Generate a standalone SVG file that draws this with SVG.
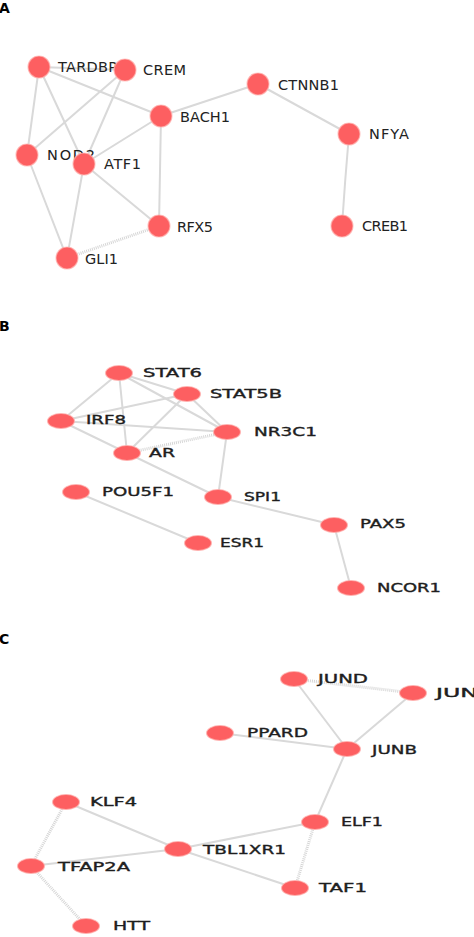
<svg xmlns="http://www.w3.org/2000/svg" width="474" height="937" viewBox="0 0 474 937">
<style>
.bg{fill:#ffffff}
.e{stroke:#d9d9d9;stroke-width:2;fill:none;stroke-linecap:round}
.d{stroke:#d6d6d6;stroke-width:3;fill:none;stroke-dasharray:1 1}
.n{fill:#fd5f61;stroke:#ffb3b0;stroke-width:1.2;stroke-opacity:0.7}
.la{font-family:"DejaVu Sans",Verdana,sans-serif;font-size:14.5px;fill:#222}
.lb{font-family:"DejaVu Sans",Verdana,sans-serif;font-size:11.5px;fill:#1e1e1e;stroke:#1e1e1e;stroke-width:0.35}
.p{font-family:"DejaVu Sans",Arial,sans-serif;font-size:14px;font-weight:bold;fill:#000}
</style>
<rect class="bg" x="0" y="0" width="474" height="937"/>
<text class="p" x="-1" y="13">A</text>
<text class="p" x="-1" y="331">B</text>
<text class="p" x="-1" y="644">C</text>
<g id="connectors">
<line class="e" x1="39" y1="67" x2="125" y2="70"/>
<line class="e" x1="39" y1="67" x2="161" y2="116"/>
<line class="e" x1="39" y1="67" x2="27" y2="155"/>
<line class="e" x1="39" y1="67" x2="84" y2="164"/>
<line class="e" x1="125" y1="70" x2="27" y2="155"/>
<line class="e" x1="125" y1="70" x2="84" y2="164"/>
<line class="e" x1="161" y1="116" x2="84" y2="164"/>
<line class="e" x1="161" y1="116" x2="258" y2="84"/>
<line class="e" x1="161" y1="116" x2="159" y2="226"/>
<line class="e" x1="258" y1="84" x2="349" y2="134"/>
<path class="e" d="M349 134 Q345 180 342 226"/>
<line class="e" x1="27" y1="155" x2="67" y2="258"/>
<line class="e" x1="84" y1="164" x2="67" y2="258"/>
<line class="e" x1="84" y1="164" x2="159" y2="226"/>
<line class="d" x1="159" y1="226" x2="67" y2="258"/>
<line class="e" x1="119" y1="373" x2="61" y2="421"/>
<line class="e" x1="119" y1="373" x2="127" y2="453"/>
<line class="e" x1="119" y1="373" x2="187" y2="394"/>
<line class="e" x1="119" y1="373" x2="227" y2="432"/>
<line class="e" x1="187" y1="394" x2="61" y2="421"/>
<line class="e" x1="187" y1="394" x2="127" y2="453"/>
<line class="e" x1="187" y1="394" x2="227" y2="432"/>
<line class="e" x1="61" y1="421" x2="227" y2="432"/>
<line class="e" x1="61" y1="421" x2="127" y2="453"/>
<line class="d" x1="127" y1="453" x2="227" y2="432"/>
<line class="e" x1="127" y1="453" x2="218" y2="497"/>
<line class="e" x1="227" y1="432" x2="218" y2="497"/>
<line class="e" x1="218" y1="497" x2="334" y2="525"/>
<line class="e" x1="334" y1="525" x2="351" y2="588"/>
<line class="e" x1="76" y1="492" x2="198" y2="543"/>
<line class="d" x1="294" y1="679" x2="413" y2="693"/>
<line class="e" x1="294" y1="679" x2="347" y2="749"/>
<line class="e" x1="413" y1="693" x2="347" y2="749"/>
<line class="e" x1="220" y1="733" x2="347" y2="749"/>
<line class="e" x1="347" y1="749" x2="315" y2="822"/>
<line class="e" x1="315" y1="822" x2="178" y2="849"/>
<line class="d" x1="315" y1="822" x2="295" y2="888"/>
<line class="e" x1="178" y1="849" x2="295" y2="888"/>
<line class="e" x1="178" y1="849" x2="66" y2="802"/>
<line class="e" x1="178" y1="849" x2="31" y2="866"/>
<line class="d" x1="66" y1="802" x2="31" y2="866"/>
<line class="d" x1="31" y1="866" x2="86" y2="926"/>
</g>
<g id="TARDBP"><circle class="n" cx="39" cy="67" r="11"/><text class="la" x="58" y="72" textLength="59">TARDBP</text></g>
<g id="CREM"><circle class="n" cx="125" cy="70" r="11"/><text class="la" x="143" y="75" textLength="43">CREM</text></g>
<g id="BACH1"><circle class="n" cx="161" cy="116" r="11"/><text class="la" x="180" y="122" textLength="50">BACH1</text></g>
<g id="CTNNB1"><circle class="n" cx="258" cy="84" r="11"/><text class="la" x="278" y="90" textLength="61">CTNNB1</text></g>
<g id="NFYA"><circle class="n" cx="349" cy="134" r="11"/><text class="la" x="369" y="139" textLength="40">NFYA</text></g>
<g id="CREB1"><circle class="n" cx="342" cy="226" r="11"/><text class="la" x="362" y="231" textLength="46">CREB1</text></g>
<g id="NOD2"><circle class="n" cx="27" cy="155" r="11"/><text class="la" x="47" y="160" textLength="48">NOD2</text></g>
<g id="ATF1"><circle class="n" cx="84" cy="164" r="11"/><text class="la" x="104" y="169" textLength="37">ATF1</text></g>
<g id="RFX5"><circle class="n" cx="159" cy="226" r="11"/><text class="la" x="177" y="232" textLength="36">RFX5</text></g>
<g id="GLI1"><circle class="n" cx="67" cy="258" r="11"/><text class="la" x="85" y="264" textLength="33">GLI1</text></g>
<g id="STAT6"><ellipse class="n" cx="119" cy="373" rx="13.5" ry="7.5"/><text class="lb" x="143" y="377" textLength="59" lengthAdjust="spacingAndGlyphs">STAT6</text></g>
<g id="STAT5B"><ellipse class="n" cx="187" cy="394" rx="13.5" ry="7.5"/><text class="lb" x="210" y="398" textLength="72" lengthAdjust="spacingAndGlyphs">STAT5B</text></g>
<g id="IRF8"><ellipse class="n" cx="61" cy="421" rx="13.5" ry="7.5"/><text class="lb" x="86" y="424" textLength="40" lengthAdjust="spacingAndGlyphs">IRF8</text></g>
<g id="NR3C1"><ellipse class="n" cx="227" cy="432" rx="13.5" ry="7.5"/><text class="lb" x="254" y="436" textLength="63" lengthAdjust="spacingAndGlyphs">NR3C1</text></g>
<g id="AR"><ellipse class="n" cx="127" cy="453" rx="13.5" ry="7.5"/><text class="lb" x="149" y="457" textLength="26" lengthAdjust="spacingAndGlyphs">AR</text></g>
<g id="SPI1"><ellipse class="n" cx="218" cy="497" rx="13.5" ry="7.5"/><text class="lb" x="244" y="501" textLength="37" lengthAdjust="spacingAndGlyphs">SPI1</text></g>
<g id="POU5F1"><ellipse class="n" cx="76" cy="492" rx="13.5" ry="7.5"/><text class="lb" x="102" y="496" textLength="72" lengthAdjust="spacingAndGlyphs">POU5F1</text></g>
<g id="ESR1"><ellipse class="n" cx="198" cy="543" rx="13.5" ry="7.5"/><text class="lb" x="220" y="547" textLength="44" lengthAdjust="spacingAndGlyphs">ESR1</text></g>
<g id="PAX5"><ellipse class="n" cx="334" cy="525" rx="13.5" ry="7.5"/><text class="lb" x="360" y="528" textLength="46" lengthAdjust="spacingAndGlyphs">PAX5</text></g>
<g id="NCOR1"><ellipse class="n" cx="351" cy="588" rx="13.5" ry="7.5"/><text class="lb" x="377" y="592" textLength="64" lengthAdjust="spacingAndGlyphs">NCOR1</text></g>
<g id="JUND"><ellipse class="n" cx="294" cy="679" rx="13.5" ry="7.5"/><text class="lb" x="318" y="683" textLength="50" lengthAdjust="spacingAndGlyphs">JUND</text></g>
<g id="JUN"><ellipse class="n" cx="413" cy="693" rx="13.5" ry="7.5"/><text class="lb" x="436" y="697" textLength="42" lengthAdjust="spacingAndGlyphs">JUN</text></g>
<g id="PPARD"><ellipse class="n" cx="220" cy="733" rx="13.5" ry="7.5"/><text class="lb" x="247" y="737" textLength="61" lengthAdjust="spacingAndGlyphs">PPARD</text></g>
<g id="JUNB"><ellipse class="n" cx="347" cy="749" rx="13.5" ry="7.5"/><text class="lb" x="372" y="754" textLength="45" lengthAdjust="spacingAndGlyphs">JUNB</text></g>
<g id="ELF1"><ellipse class="n" cx="315" cy="822" rx="13.5" ry="7.5"/><text class="lb" x="341" y="826" textLength="42" lengthAdjust="spacingAndGlyphs">ELF1</text></g>
<g id="TAF1"><ellipse class="n" cx="295" cy="888" rx="13.5" ry="7.5"/><text class="lb" x="319" y="892" textLength="48" lengthAdjust="spacingAndGlyphs">TAF1</text></g>
<g id="TBL1XR1"><ellipse class="n" cx="178" cy="849" rx="13.5" ry="7.5"/><text class="lb" x="203" y="854" textLength="83" lengthAdjust="spacingAndGlyphs">TBL1XR1</text></g>
<g id="KLF4"><ellipse class="n" cx="66" cy="802" rx="13.5" ry="7.5"/><text class="lb" x="90" y="806" textLength="47" lengthAdjust="spacingAndGlyphs">KLF4</text></g>
<g id="TFAP2A"><ellipse class="n" cx="31" cy="866" rx="13.5" ry="7.5"/><text class="lb" x="58" y="871" textLength="72" lengthAdjust="spacingAndGlyphs">TFAP2A</text></g>
<g id="HTT"><ellipse class="n" cx="86" cy="926" rx="13.5" ry="7.5"/><text class="lb" x="113" y="930" textLength="37" lengthAdjust="spacingAndGlyphs">HTT</text></g>
</svg>
